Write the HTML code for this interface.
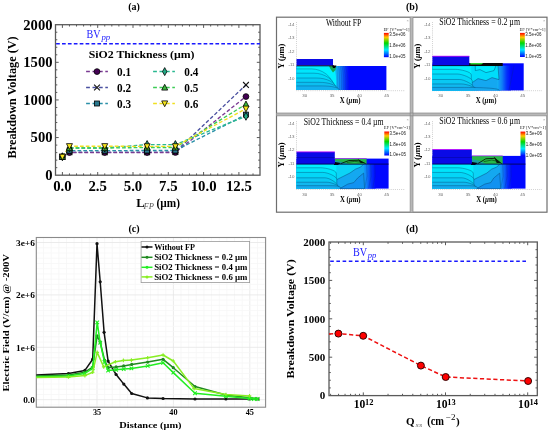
<!DOCTYPE html>
<html><head><meta charset="utf-8"><style>html,body{margin:0;padding:0;background:#fff;width:550px;height:433px;overflow:hidden}svg{display:block;filter:blur(0.4px)}</style></head>
<body><svg width="550" height="433" viewBox="0 0 550 433"><text x="134.00" y="10.20" font-size="10" font-family='"Liberation Serif", serif' font-weight="bold" fill="#000" text-anchor="middle">(a)</text>
<line x1="62.40" y1="175.2" x2="62.40" y2="172.0" stroke="#5a5a5a" stroke-width="1"/>
<line x1="62.40" y1="24.7" x2="62.40" y2="27.9" stroke="#5a5a5a" stroke-width="1"/>
<line x1="69.46" y1="175.2" x2="69.46" y2="173.39999999999998" stroke="#5a5a5a" stroke-width="1"/>
<line x1="69.46" y1="24.7" x2="69.46" y2="26.5" stroke="#5a5a5a" stroke-width="1"/>
<line x1="76.52" y1="175.2" x2="76.52" y2="173.39999999999998" stroke="#5a5a5a" stroke-width="1"/>
<line x1="76.52" y1="24.7" x2="76.52" y2="26.5" stroke="#5a5a5a" stroke-width="1"/>
<line x1="83.58" y1="175.2" x2="83.58" y2="173.39999999999998" stroke="#5a5a5a" stroke-width="1"/>
<line x1="83.58" y1="24.7" x2="83.58" y2="26.5" stroke="#5a5a5a" stroke-width="1"/>
<line x1="90.64" y1="175.2" x2="90.64" y2="173.39999999999998" stroke="#5a5a5a" stroke-width="1"/>
<line x1="90.64" y1="24.7" x2="90.64" y2="26.5" stroke="#5a5a5a" stroke-width="1"/>
<line x1="97.70" y1="175.2" x2="97.70" y2="172.0" stroke="#5a5a5a" stroke-width="1"/>
<line x1="97.70" y1="24.7" x2="97.70" y2="27.9" stroke="#5a5a5a" stroke-width="1"/>
<line x1="104.76" y1="175.2" x2="104.76" y2="173.39999999999998" stroke="#5a5a5a" stroke-width="1"/>
<line x1="104.76" y1="24.7" x2="104.76" y2="26.5" stroke="#5a5a5a" stroke-width="1"/>
<line x1="111.82" y1="175.2" x2="111.82" y2="173.39999999999998" stroke="#5a5a5a" stroke-width="1"/>
<line x1="111.82" y1="24.7" x2="111.82" y2="26.5" stroke="#5a5a5a" stroke-width="1"/>
<line x1="118.88" y1="175.2" x2="118.88" y2="173.39999999999998" stroke="#5a5a5a" stroke-width="1"/>
<line x1="118.88" y1="24.7" x2="118.88" y2="26.5" stroke="#5a5a5a" stroke-width="1"/>
<line x1="125.94" y1="175.2" x2="125.94" y2="173.39999999999998" stroke="#5a5a5a" stroke-width="1"/>
<line x1="125.94" y1="24.7" x2="125.94" y2="26.5" stroke="#5a5a5a" stroke-width="1"/>
<line x1="133.00" y1="175.2" x2="133.00" y2="172.0" stroke="#5a5a5a" stroke-width="1"/>
<line x1="133.00" y1="24.7" x2="133.00" y2="27.9" stroke="#5a5a5a" stroke-width="1"/>
<line x1="140.06" y1="175.2" x2="140.06" y2="173.39999999999998" stroke="#5a5a5a" stroke-width="1"/>
<line x1="140.06" y1="24.7" x2="140.06" y2="26.5" stroke="#5a5a5a" stroke-width="1"/>
<line x1="147.12" y1="175.2" x2="147.12" y2="173.39999999999998" stroke="#5a5a5a" stroke-width="1"/>
<line x1="147.12" y1="24.7" x2="147.12" y2="26.5" stroke="#5a5a5a" stroke-width="1"/>
<line x1="154.18" y1="175.2" x2="154.18" y2="173.39999999999998" stroke="#5a5a5a" stroke-width="1"/>
<line x1="154.18" y1="24.7" x2="154.18" y2="26.5" stroke="#5a5a5a" stroke-width="1"/>
<line x1="161.24" y1="175.2" x2="161.24" y2="173.39999999999998" stroke="#5a5a5a" stroke-width="1"/>
<line x1="161.24" y1="24.7" x2="161.24" y2="26.5" stroke="#5a5a5a" stroke-width="1"/>
<line x1="168.30" y1="175.2" x2="168.30" y2="172.0" stroke="#5a5a5a" stroke-width="1"/>
<line x1="168.30" y1="24.7" x2="168.30" y2="27.9" stroke="#5a5a5a" stroke-width="1"/>
<line x1="175.36" y1="175.2" x2="175.36" y2="173.39999999999998" stroke="#5a5a5a" stroke-width="1"/>
<line x1="175.36" y1="24.7" x2="175.36" y2="26.5" stroke="#5a5a5a" stroke-width="1"/>
<line x1="182.42" y1="175.2" x2="182.42" y2="173.39999999999998" stroke="#5a5a5a" stroke-width="1"/>
<line x1="182.42" y1="24.7" x2="182.42" y2="26.5" stroke="#5a5a5a" stroke-width="1"/>
<line x1="189.48" y1="175.2" x2="189.48" y2="173.39999999999998" stroke="#5a5a5a" stroke-width="1"/>
<line x1="189.48" y1="24.7" x2="189.48" y2="26.5" stroke="#5a5a5a" stroke-width="1"/>
<line x1="196.54" y1="175.2" x2="196.54" y2="173.39999999999998" stroke="#5a5a5a" stroke-width="1"/>
<line x1="196.54" y1="24.7" x2="196.54" y2="26.5" stroke="#5a5a5a" stroke-width="1"/>
<line x1="203.60" y1="175.2" x2="203.60" y2="172.0" stroke="#5a5a5a" stroke-width="1"/>
<line x1="203.60" y1="24.7" x2="203.60" y2="27.9" stroke="#5a5a5a" stroke-width="1"/>
<line x1="210.66" y1="175.2" x2="210.66" y2="173.39999999999998" stroke="#5a5a5a" stroke-width="1"/>
<line x1="210.66" y1="24.7" x2="210.66" y2="26.5" stroke="#5a5a5a" stroke-width="1"/>
<line x1="217.72" y1="175.2" x2="217.72" y2="173.39999999999998" stroke="#5a5a5a" stroke-width="1"/>
<line x1="217.72" y1="24.7" x2="217.72" y2="26.5" stroke="#5a5a5a" stroke-width="1"/>
<line x1="224.78" y1="175.2" x2="224.78" y2="173.39999999999998" stroke="#5a5a5a" stroke-width="1"/>
<line x1="224.78" y1="24.7" x2="224.78" y2="26.5" stroke="#5a5a5a" stroke-width="1"/>
<line x1="231.84" y1="175.2" x2="231.84" y2="173.39999999999998" stroke="#5a5a5a" stroke-width="1"/>
<line x1="231.84" y1="24.7" x2="231.84" y2="26.5" stroke="#5a5a5a" stroke-width="1"/>
<line x1="238.90" y1="175.2" x2="238.90" y2="172.0" stroke="#5a5a5a" stroke-width="1"/>
<line x1="238.90" y1="24.7" x2="238.90" y2="27.9" stroke="#5a5a5a" stroke-width="1"/>
<line x1="245.96" y1="175.2" x2="245.96" y2="173.39999999999998" stroke="#5a5a5a" stroke-width="1"/>
<line x1="245.96" y1="24.7" x2="245.96" y2="26.5" stroke="#5a5a5a" stroke-width="1"/>
<line x1="253.02" y1="175.2" x2="253.02" y2="173.39999999999998" stroke="#5a5a5a" stroke-width="1"/>
<line x1="253.02" y1="24.7" x2="253.02" y2="26.5" stroke="#5a5a5a" stroke-width="1"/>
<line x1="55.5" y1="167.67" x2="57.3" y2="167.67" stroke="#5a5a5a" stroke-width="1"/>
<line x1="260.0" y1="167.67" x2="258.2" y2="167.67" stroke="#5a5a5a" stroke-width="1"/>
<line x1="55.5" y1="160.15" x2="57.3" y2="160.15" stroke="#5a5a5a" stroke-width="1"/>
<line x1="260.0" y1="160.15" x2="258.2" y2="160.15" stroke="#5a5a5a" stroke-width="1"/>
<line x1="55.5" y1="152.62" x2="57.3" y2="152.62" stroke="#5a5a5a" stroke-width="1"/>
<line x1="260.0" y1="152.62" x2="258.2" y2="152.62" stroke="#5a5a5a" stroke-width="1"/>
<line x1="55.5" y1="145.10" x2="57.3" y2="145.10" stroke="#5a5a5a" stroke-width="1"/>
<line x1="260.0" y1="145.10" x2="258.2" y2="145.10" stroke="#5a5a5a" stroke-width="1"/>
<line x1="55.5" y1="137.57" x2="58.7" y2="137.57" stroke="#5a5a5a" stroke-width="1"/>
<line x1="260.0" y1="137.57" x2="256.8" y2="137.57" stroke="#5a5a5a" stroke-width="1"/>
<line x1="55.5" y1="130.05" x2="57.3" y2="130.05" stroke="#5a5a5a" stroke-width="1"/>
<line x1="260.0" y1="130.05" x2="258.2" y2="130.05" stroke="#5a5a5a" stroke-width="1"/>
<line x1="55.5" y1="122.52" x2="57.3" y2="122.52" stroke="#5a5a5a" stroke-width="1"/>
<line x1="260.0" y1="122.52" x2="258.2" y2="122.52" stroke="#5a5a5a" stroke-width="1"/>
<line x1="55.5" y1="115.00" x2="57.3" y2="115.00" stroke="#5a5a5a" stroke-width="1"/>
<line x1="260.0" y1="115.00" x2="258.2" y2="115.00" stroke="#5a5a5a" stroke-width="1"/>
<line x1="55.5" y1="107.47" x2="57.3" y2="107.47" stroke="#5a5a5a" stroke-width="1"/>
<line x1="260.0" y1="107.47" x2="258.2" y2="107.47" stroke="#5a5a5a" stroke-width="1"/>
<line x1="55.5" y1="99.95" x2="58.7" y2="99.95" stroke="#5a5a5a" stroke-width="1"/>
<line x1="260.0" y1="99.95" x2="256.8" y2="99.95" stroke="#5a5a5a" stroke-width="1"/>
<line x1="55.5" y1="92.42" x2="57.3" y2="92.42" stroke="#5a5a5a" stroke-width="1"/>
<line x1="260.0" y1="92.42" x2="258.2" y2="92.42" stroke="#5a5a5a" stroke-width="1"/>
<line x1="55.5" y1="84.90" x2="57.3" y2="84.90" stroke="#5a5a5a" stroke-width="1"/>
<line x1="260.0" y1="84.90" x2="258.2" y2="84.90" stroke="#5a5a5a" stroke-width="1"/>
<line x1="55.5" y1="77.37" x2="57.3" y2="77.37" stroke="#5a5a5a" stroke-width="1"/>
<line x1="260.0" y1="77.37" x2="258.2" y2="77.37" stroke="#5a5a5a" stroke-width="1"/>
<line x1="55.5" y1="69.85" x2="57.3" y2="69.85" stroke="#5a5a5a" stroke-width="1"/>
<line x1="260.0" y1="69.85" x2="258.2" y2="69.85" stroke="#5a5a5a" stroke-width="1"/>
<line x1="55.5" y1="62.32" x2="58.7" y2="62.32" stroke="#5a5a5a" stroke-width="1"/>
<line x1="260.0" y1="62.32" x2="256.8" y2="62.32" stroke="#5a5a5a" stroke-width="1"/>
<line x1="55.5" y1="54.80" x2="57.3" y2="54.80" stroke="#5a5a5a" stroke-width="1"/>
<line x1="260.0" y1="54.80" x2="258.2" y2="54.80" stroke="#5a5a5a" stroke-width="1"/>
<line x1="55.5" y1="47.27" x2="57.3" y2="47.27" stroke="#5a5a5a" stroke-width="1"/>
<line x1="260.0" y1="47.27" x2="258.2" y2="47.27" stroke="#5a5a5a" stroke-width="1"/>
<line x1="55.5" y1="39.75" x2="57.3" y2="39.75" stroke="#5a5a5a" stroke-width="1"/>
<line x1="260.0" y1="39.75" x2="258.2" y2="39.75" stroke="#5a5a5a" stroke-width="1"/>
<line x1="55.5" y1="32.22" x2="57.3" y2="32.22" stroke="#5a5a5a" stroke-width="1"/>
<line x1="260.0" y1="32.22" x2="258.2" y2="32.22" stroke="#5a5a5a" stroke-width="1"/>
<rect x="55.5" y="24.7" width="204.5" height="150.5" fill="none" stroke="#5a5a5a" stroke-width="1.3"/>
<text x="52.50" y="180.10" font-size="14.6" font-family='"Liberation Serif", serif' font-weight="bold" fill="#000" text-anchor="end">0</text>
<text x="52.50" y="142.47" font-size="14.6" font-family='"Liberation Serif", serif' font-weight="bold" fill="#000" text-anchor="end">500</text>
<text x="52.50" y="104.85" font-size="14.6" font-family='"Liberation Serif", serif' font-weight="bold" fill="#000" text-anchor="end">1000</text>
<text x="52.50" y="67.22" font-size="14.6" font-family='"Liberation Serif", serif' font-weight="bold" fill="#000" text-anchor="end">1500</text>
<text x="52.50" y="29.60" font-size="14.6" font-family='"Liberation Serif", serif' font-weight="bold" fill="#000" text-anchor="end">2000</text>
<text x="62.40" y="190.60" font-size="14.8" font-family='"Liberation Serif", serif' font-weight="bold" fill="#000" text-anchor="middle">0.0</text>
<text x="97.70" y="190.60" font-size="14.8" font-family='"Liberation Serif", serif' font-weight="bold" fill="#000" text-anchor="middle">2.5</text>
<text x="133.00" y="190.60" font-size="14.8" font-family='"Liberation Serif", serif' font-weight="bold" fill="#000" text-anchor="middle">5.0</text>
<text x="168.30" y="190.60" font-size="14.8" font-family='"Liberation Serif", serif' font-weight="bold" fill="#000" text-anchor="middle">7.5</text>
<text x="203.60" y="190.60" font-size="14.8" font-family='"Liberation Serif", serif' font-weight="bold" fill="#000" text-anchor="middle">10.0</text>
<text x="238.90" y="190.60" font-size="14.8" font-family='"Liberation Serif", serif' font-weight="bold" fill="#000" text-anchor="middle">12.5</text>
<text x="16.50" y="97.40" font-size="12.5" font-family='"Liberation Serif", serif' font-weight="bold" fill="#000" text-anchor="middle" textLength="122" lengthAdjust="spacingAndGlyphs" transform="rotate(-90 16.50 97.40)">Breakdown Voltage (V)</text>
<text x="136.30" y="207.20" font-size="12.6" font-family='"Liberation Serif", serif' font-weight="bold" fill="#000" text-anchor="start">L</text>
<text x="143.50" y="209.20" font-size="8.4" font-family='"Liberation Serif", serif' font-weight="normal" fill="#555" text-anchor="start" font-style="italic" textLength="10.4" lengthAdjust="spacingAndGlyphs">FP</text>
<text x="156.60" y="207.20" font-size="12.6" font-family='"Liberation Serif", serif' font-weight="bold" fill="#000" text-anchor="start" textLength="23.4" lengthAdjust="spacingAndGlyphs">(µm)</text>
<line x1="56.1" y1="43.8" x2="260.0" y2="43.8" stroke="#1a1aff" stroke-width="1.5" stroke-dasharray="3.7 2.2"/>
<text x="86.60" y="38.40" font-size="12.4" font-family='"Liberation Serif", serif' font-weight="normal" fill="#1a1aff" text-anchor="start" textLength="14" lengthAdjust="spacingAndGlyphs">BV</text>
<text x="101.40" y="40.30" font-size="8.2" font-family='"Liberation Serif", serif' font-weight="normal" fill="#1a1aff" text-anchor="start" font-style="italic" textLength="8.8" lengthAdjust="spacingAndGlyphs">pp</text>
<text x="88.70" y="58.20" font-size="11" font-family='"Liberation Serif", serif' font-weight="bold" fill="#000" text-anchor="start" textLength="105.8" lengthAdjust="spacingAndGlyphs">SiO2 Thickness (µm)</text>
<line x1="86.1" y1="71.6" x2="107.9" y2="71.6" stroke="#7a3a92" stroke-width="1.5" stroke-dasharray="3.8 2.6"/>
<circle cx="97.00" cy="71.60" r="2.9" fill="#440154" stroke="#000" stroke-width="0.8"/>
<text x="117.10" y="75.80" font-size="11.8" font-family='"Liberation Serif", serif' font-weight="bold" fill="#000" text-anchor="start" textLength="14" lengthAdjust="spacingAndGlyphs">0.1</text>
<line x1="86.1" y1="87.5" x2="107.9" y2="87.5" stroke="#4a50a0" stroke-width="1.5" stroke-dasharray="3.8 2.6"/>
<path d="M94.10 84.60L99.90 90.40M94.10 90.40L99.90 84.60" stroke="#111" stroke-width="1.1"/>
<text x="117.10" y="91.70" font-size="11.8" font-family='"Liberation Serif", serif' font-weight="bold" fill="#000" text-anchor="start" textLength="14" lengthAdjust="spacingAndGlyphs">0.2</text>
<line x1="86.1" y1="103.5" x2="107.9" y2="103.5" stroke="#2a90a8" stroke-width="1.5" stroke-dasharray="3.8 2.6"/>
<rect x="94.50" y="101.00" width="5" height="5" fill="#2a788e" stroke="#000" stroke-width="0.8"/>
<text x="117.10" y="107.70" font-size="11.8" font-family='"Liberation Serif", serif' font-weight="bold" fill="#000" text-anchor="start" textLength="14" lengthAdjust="spacingAndGlyphs">0.3</text>
<line x1="153.1" y1="71.6" x2="174.9" y2="71.6" stroke="#2ab890" stroke-width="1.5" stroke-dasharray="3.8 2.6"/>
<path d="M164.70 67.60L166.90 71.60L164.70 75.60L162.50 71.60Z" fill="#22a884" stroke="#000" stroke-width="0.8"/>
<text x="184.30" y="75.80" font-size="11.8" font-family='"Liberation Serif", serif' font-weight="bold" fill="#000" text-anchor="start" textLength="14" lengthAdjust="spacingAndGlyphs">0.4</text>
<line x1="153.1" y1="87.5" x2="174.9" y2="87.5" stroke="#3ccc55" stroke-width="1.5" stroke-dasharray="3.8 2.6"/>
<path d="M164.70 84.30L167.70 90.10L161.70 90.10Z" fill="#3cbb3c" stroke="#000" stroke-width="0.8"/>
<text x="184.30" y="91.70" font-size="11.8" font-family='"Liberation Serif", serif' font-weight="bold" fill="#000" text-anchor="start" textLength="14" lengthAdjust="spacingAndGlyphs">0.5</text>
<line x1="153.1" y1="103.5" x2="174.9" y2="103.5" stroke="#f0e020" stroke-width="1.5" stroke-dasharray="3.8 2.6"/>
<path d="M164.70 106.70L167.70 100.90L161.70 100.90Z" fill="#f5e51e" stroke="#000" stroke-width="0.8"/>
<text x="184.30" y="107.70" font-size="11.8" font-family='"Liberation Serif", serif' font-weight="bold" fill="#000" text-anchor="start" textLength="14" lengthAdjust="spacingAndGlyphs">0.6</text>
<polyline points="62.40,156.76 69.46,152.25 104.76,152.25 147.12,152.25 175.36,152.02 245.96,84.90" fill="none" stroke="#4a50a0" stroke-width="1.35" stroke-dasharray="3.7 2.1"/>
<polyline points="62.40,156.76 69.46,152.62 104.76,152.62 147.12,152.62 175.36,152.47 245.96,96.56" fill="none" stroke="#7a3a92" stroke-width="1.35" stroke-dasharray="3.7 2.1"/>
<polyline points="62.40,156.76 69.46,150.59 104.76,150.59 147.12,150.52 175.36,150.52 245.96,114.62" fill="none" stroke="#2a90a8" stroke-width="1.35" stroke-dasharray="3.7 2.1"/>
<polyline points="62.40,156.76 69.46,148.03 104.76,148.03 147.12,144.57 175.36,144.57 245.96,116.28" fill="none" stroke="#2ab890" stroke-width="1.35" stroke-dasharray="3.7 2.1"/>
<polyline points="62.40,156.76 69.46,148.03 104.76,148.03 147.12,147.51 175.36,147.51 245.96,104.24" fill="none" stroke="#3ccc55" stroke-width="1.35" stroke-dasharray="3.7 2.1"/>
<polyline points="62.40,156.76 69.46,146.23 104.76,146.23 147.12,146.38 175.36,146.38 245.96,108.68" fill="none" stroke="#f0e020" stroke-width="1.35" stroke-dasharray="3.7 2.1"/>
<circle cx="62.40" cy="156.76" r="2.9" fill="#440154" stroke="#000" stroke-width="0.8"/>
<circle cx="69.46" cy="152.62" r="2.9" fill="#440154" stroke="#000" stroke-width="0.8"/>
<circle cx="104.76" cy="152.62" r="2.9" fill="#440154" stroke="#000" stroke-width="0.8"/>
<circle cx="147.12" cy="152.62" r="2.9" fill="#440154" stroke="#000" stroke-width="0.8"/>
<circle cx="175.36" cy="152.47" r="2.9" fill="#440154" stroke="#000" stroke-width="0.8"/>
<circle cx="245.96" cy="96.56" r="2.9" fill="#440154" stroke="#000" stroke-width="0.8"/>
<path d="M59.50 153.86L65.30 159.66M59.50 159.66L65.30 153.86" stroke="#111" stroke-width="1.1"/>
<path d="M66.56 149.35L72.36 155.15M66.56 155.15L72.36 149.35" stroke="#111" stroke-width="1.1"/>
<path d="M101.86 149.35L107.66 155.15M101.86 155.15L107.66 149.35" stroke="#111" stroke-width="1.1"/>
<path d="M144.22 149.35L150.02 155.15M144.22 155.15L150.02 149.35" stroke="#111" stroke-width="1.1"/>
<path d="M172.46 149.12L178.26 154.92M172.46 154.92L178.26 149.12" stroke="#111" stroke-width="1.1"/>
<path d="M243.06 82.00L248.86 87.80M243.06 87.80L248.86 82.00" stroke="#111" stroke-width="1.1"/>
<rect x="59.90" y="154.26" width="5" height="5" fill="#2a788e" stroke="#000" stroke-width="0.8"/>
<rect x="66.96" y="148.09" width="5" height="5" fill="#2a788e" stroke="#000" stroke-width="0.8"/>
<rect x="102.26" y="148.09" width="5" height="5" fill="#2a788e" stroke="#000" stroke-width="0.8"/>
<rect x="144.62" y="148.02" width="5" height="5" fill="#2a788e" stroke="#000" stroke-width="0.8"/>
<rect x="172.86" y="148.02" width="5" height="5" fill="#2a788e" stroke="#000" stroke-width="0.8"/>
<rect x="243.46" y="112.12" width="5" height="5" fill="#2a788e" stroke="#000" stroke-width="0.8"/>
<path d="M62.40 152.76L64.60 156.76L62.40 160.76L60.20 156.76Z" fill="#22a884" stroke="#000" stroke-width="0.8"/>
<path d="M69.46 144.03L71.66 148.03L69.46 152.03L67.26 148.03Z" fill="#22a884" stroke="#000" stroke-width="0.8"/>
<path d="M104.76 144.03L106.96 148.03L104.76 152.03L102.56 148.03Z" fill="#22a884" stroke="#000" stroke-width="0.8"/>
<path d="M147.12 140.57L149.32 144.57L147.12 148.57L144.92 144.57Z" fill="#22a884" stroke="#000" stroke-width="0.8"/>
<path d="M175.36 140.57L177.56 144.57L175.36 148.57L173.16 144.57Z" fill="#22a884" stroke="#000" stroke-width="0.8"/>
<path d="M245.96 112.28L248.16 116.28L245.96 120.28L243.76 116.28Z" fill="#22a884" stroke="#000" stroke-width="0.8"/>
<path d="M62.40 153.56L65.40 159.36L59.40 159.36Z" fill="#3cbb3c" stroke="#000" stroke-width="0.8"/>
<path d="M69.46 144.83L72.46 150.63L66.46 150.63Z" fill="#3cbb3c" stroke="#000" stroke-width="0.8"/>
<path d="M104.76 144.83L107.76 150.63L101.76 150.63Z" fill="#3cbb3c" stroke="#000" stroke-width="0.8"/>
<path d="M147.12 144.31L150.12 150.11L144.12 150.11Z" fill="#3cbb3c" stroke="#000" stroke-width="0.8"/>
<path d="M175.36 144.31L178.36 150.11L172.36 150.11Z" fill="#3cbb3c" stroke="#000" stroke-width="0.8"/>
<path d="M245.96 101.04L248.96 106.84L242.96 106.84Z" fill="#3cbb3c" stroke="#000" stroke-width="0.8"/>
<path d="M62.40 159.96L65.40 154.16L59.40 154.16Z" fill="#f5e51e" stroke="#000" stroke-width="0.8"/>
<path d="M69.46 149.43L72.46 143.63L66.46 143.63Z" fill="#f5e51e" stroke="#000" stroke-width="0.8"/>
<path d="M104.76 149.43L107.76 143.63L101.76 143.63Z" fill="#f5e51e" stroke="#000" stroke-width="0.8"/>
<path d="M147.12 149.58L150.12 143.78L144.12 143.78Z" fill="#f5e51e" stroke="#000" stroke-width="0.8"/>
<path d="M175.36 149.58L178.36 143.78L172.36 143.78Z" fill="#f5e51e" stroke="#000" stroke-width="0.8"/>
<path d="M245.96 111.88L248.96 106.08L242.96 106.08Z" fill="#f5e51e" stroke="#000" stroke-width="0.8"/>
<text x="412.00" y="232.00" font-size="10" font-family='"Liberation Serif", serif' font-weight="bold" fill="#000" text-anchor="middle">(d)</text>
<line x1="330.59" y1="395.6" x2="330.59" y2="393.8" stroke="#5a5a5a" stroke-width="1"/>
<line x1="330.59" y1="242.0" x2="330.59" y2="243.8" stroke="#5a5a5a" stroke-width="1"/>
<line x1="338.56" y1="395.6" x2="338.56" y2="393.8" stroke="#5a5a5a" stroke-width="1"/>
<line x1="338.56" y1="242.0" x2="338.56" y2="243.8" stroke="#5a5a5a" stroke-width="1"/>
<line x1="345.06" y1="395.6" x2="345.06" y2="393.8" stroke="#5a5a5a" stroke-width="1"/>
<line x1="345.06" y1="242.0" x2="345.06" y2="243.8" stroke="#5a5a5a" stroke-width="1"/>
<line x1="350.57" y1="395.6" x2="350.57" y2="393.8" stroke="#5a5a5a" stroke-width="1"/>
<line x1="350.57" y1="242.0" x2="350.57" y2="243.8" stroke="#5a5a5a" stroke-width="1"/>
<line x1="355.33" y1="395.6" x2="355.33" y2="393.8" stroke="#5a5a5a" stroke-width="1"/>
<line x1="355.33" y1="242.0" x2="355.33" y2="243.8" stroke="#5a5a5a" stroke-width="1"/>
<line x1="359.54" y1="395.6" x2="359.54" y2="393.8" stroke="#5a5a5a" stroke-width="1"/>
<line x1="359.54" y1="242.0" x2="359.54" y2="243.8" stroke="#5a5a5a" stroke-width="1"/>
<line x1="363.30" y1="395.6" x2="363.30" y2="392.40000000000003" stroke="#5a5a5a" stroke-width="1"/>
<line x1="363.30" y1="242.0" x2="363.30" y2="245.2" stroke="#5a5a5a" stroke-width="1"/>
<line x1="388.04" y1="395.6" x2="388.04" y2="393.8" stroke="#5a5a5a" stroke-width="1"/>
<line x1="388.04" y1="242.0" x2="388.04" y2="243.8" stroke="#5a5a5a" stroke-width="1"/>
<line x1="402.52" y1="395.6" x2="402.52" y2="393.8" stroke="#5a5a5a" stroke-width="1"/>
<line x1="402.52" y1="242.0" x2="402.52" y2="243.8" stroke="#5a5a5a" stroke-width="1"/>
<line x1="412.79" y1="395.6" x2="412.79" y2="393.8" stroke="#5a5a5a" stroke-width="1"/>
<line x1="412.79" y1="242.0" x2="412.79" y2="243.8" stroke="#5a5a5a" stroke-width="1"/>
<line x1="420.76" y1="395.6" x2="420.76" y2="393.8" stroke="#5a5a5a" stroke-width="1"/>
<line x1="420.76" y1="242.0" x2="420.76" y2="243.8" stroke="#5a5a5a" stroke-width="1"/>
<line x1="427.26" y1="395.6" x2="427.26" y2="393.8" stroke="#5a5a5a" stroke-width="1"/>
<line x1="427.26" y1="242.0" x2="427.26" y2="243.8" stroke="#5a5a5a" stroke-width="1"/>
<line x1="432.77" y1="395.6" x2="432.77" y2="393.8" stroke="#5a5a5a" stroke-width="1"/>
<line x1="432.77" y1="242.0" x2="432.77" y2="243.8" stroke="#5a5a5a" stroke-width="1"/>
<line x1="437.53" y1="395.6" x2="437.53" y2="393.8" stroke="#5a5a5a" stroke-width="1"/>
<line x1="437.53" y1="242.0" x2="437.53" y2="243.8" stroke="#5a5a5a" stroke-width="1"/>
<line x1="441.74" y1="395.6" x2="441.74" y2="393.8" stroke="#5a5a5a" stroke-width="1"/>
<line x1="441.74" y1="242.0" x2="441.74" y2="243.8" stroke="#5a5a5a" stroke-width="1"/>
<line x1="445.50" y1="395.6" x2="445.50" y2="392.40000000000003" stroke="#5a5a5a" stroke-width="1"/>
<line x1="445.50" y1="242.0" x2="445.50" y2="245.2" stroke="#5a5a5a" stroke-width="1"/>
<line x1="470.24" y1="395.6" x2="470.24" y2="393.8" stroke="#5a5a5a" stroke-width="1"/>
<line x1="470.24" y1="242.0" x2="470.24" y2="243.8" stroke="#5a5a5a" stroke-width="1"/>
<line x1="484.72" y1="395.6" x2="484.72" y2="393.8" stroke="#5a5a5a" stroke-width="1"/>
<line x1="484.72" y1="242.0" x2="484.72" y2="243.8" stroke="#5a5a5a" stroke-width="1"/>
<line x1="494.99" y1="395.6" x2="494.99" y2="393.8" stroke="#5a5a5a" stroke-width="1"/>
<line x1="494.99" y1="242.0" x2="494.99" y2="243.8" stroke="#5a5a5a" stroke-width="1"/>
<line x1="502.96" y1="395.6" x2="502.96" y2="393.8" stroke="#5a5a5a" stroke-width="1"/>
<line x1="502.96" y1="242.0" x2="502.96" y2="243.8" stroke="#5a5a5a" stroke-width="1"/>
<line x1="509.46" y1="395.6" x2="509.46" y2="393.8" stroke="#5a5a5a" stroke-width="1"/>
<line x1="509.46" y1="242.0" x2="509.46" y2="243.8" stroke="#5a5a5a" stroke-width="1"/>
<line x1="514.97" y1="395.6" x2="514.97" y2="393.8" stroke="#5a5a5a" stroke-width="1"/>
<line x1="514.97" y1="242.0" x2="514.97" y2="243.8" stroke="#5a5a5a" stroke-width="1"/>
<line x1="519.73" y1="395.6" x2="519.73" y2="393.8" stroke="#5a5a5a" stroke-width="1"/>
<line x1="519.73" y1="242.0" x2="519.73" y2="243.8" stroke="#5a5a5a" stroke-width="1"/>
<line x1="523.94" y1="395.6" x2="523.94" y2="393.8" stroke="#5a5a5a" stroke-width="1"/>
<line x1="523.94" y1="242.0" x2="523.94" y2="243.8" stroke="#5a5a5a" stroke-width="1"/>
<line x1="527.70" y1="395.6" x2="527.70" y2="392.40000000000003" stroke="#5a5a5a" stroke-width="1"/>
<line x1="527.70" y1="242.0" x2="527.70" y2="245.2" stroke="#5a5a5a" stroke-width="1"/>
<line x1="329.0" y1="387.92" x2="330.8" y2="387.92" stroke="#5a5a5a" stroke-width="1"/>
<line x1="537.3" y1="387.92" x2="535.5" y2="387.92" stroke="#5a5a5a" stroke-width="1"/>
<line x1="329.0" y1="380.24" x2="330.8" y2="380.24" stroke="#5a5a5a" stroke-width="1"/>
<line x1="537.3" y1="380.24" x2="535.5" y2="380.24" stroke="#5a5a5a" stroke-width="1"/>
<line x1="329.0" y1="372.56" x2="330.8" y2="372.56" stroke="#5a5a5a" stroke-width="1"/>
<line x1="537.3" y1="372.56" x2="535.5" y2="372.56" stroke="#5a5a5a" stroke-width="1"/>
<line x1="329.0" y1="364.88" x2="330.8" y2="364.88" stroke="#5a5a5a" stroke-width="1"/>
<line x1="537.3" y1="364.88" x2="535.5" y2="364.88" stroke="#5a5a5a" stroke-width="1"/>
<line x1="329.0" y1="357.20" x2="332.2" y2="357.20" stroke="#5a5a5a" stroke-width="1"/>
<line x1="537.3" y1="357.20" x2="534.0999999999999" y2="357.20" stroke="#5a5a5a" stroke-width="1"/>
<line x1="329.0" y1="349.52" x2="330.8" y2="349.52" stroke="#5a5a5a" stroke-width="1"/>
<line x1="537.3" y1="349.52" x2="535.5" y2="349.52" stroke="#5a5a5a" stroke-width="1"/>
<line x1="329.0" y1="341.84" x2="330.8" y2="341.84" stroke="#5a5a5a" stroke-width="1"/>
<line x1="537.3" y1="341.84" x2="535.5" y2="341.84" stroke="#5a5a5a" stroke-width="1"/>
<line x1="329.0" y1="334.16" x2="330.8" y2="334.16" stroke="#5a5a5a" stroke-width="1"/>
<line x1="537.3" y1="334.16" x2="535.5" y2="334.16" stroke="#5a5a5a" stroke-width="1"/>
<line x1="329.0" y1="326.48" x2="330.8" y2="326.48" stroke="#5a5a5a" stroke-width="1"/>
<line x1="537.3" y1="326.48" x2="535.5" y2="326.48" stroke="#5a5a5a" stroke-width="1"/>
<line x1="329.0" y1="318.80" x2="332.2" y2="318.80" stroke="#5a5a5a" stroke-width="1"/>
<line x1="537.3" y1="318.80" x2="534.0999999999999" y2="318.80" stroke="#5a5a5a" stroke-width="1"/>
<line x1="329.0" y1="311.12" x2="330.8" y2="311.12" stroke="#5a5a5a" stroke-width="1"/>
<line x1="537.3" y1="311.12" x2="535.5" y2="311.12" stroke="#5a5a5a" stroke-width="1"/>
<line x1="329.0" y1="303.44" x2="330.8" y2="303.44" stroke="#5a5a5a" stroke-width="1"/>
<line x1="537.3" y1="303.44" x2="535.5" y2="303.44" stroke="#5a5a5a" stroke-width="1"/>
<line x1="329.0" y1="295.76" x2="330.8" y2="295.76" stroke="#5a5a5a" stroke-width="1"/>
<line x1="537.3" y1="295.76" x2="535.5" y2="295.76" stroke="#5a5a5a" stroke-width="1"/>
<line x1="329.0" y1="288.08" x2="330.8" y2="288.08" stroke="#5a5a5a" stroke-width="1"/>
<line x1="537.3" y1="288.08" x2="535.5" y2="288.08" stroke="#5a5a5a" stroke-width="1"/>
<line x1="329.0" y1="280.40" x2="332.2" y2="280.40" stroke="#5a5a5a" stroke-width="1"/>
<line x1="537.3" y1="280.40" x2="534.0999999999999" y2="280.40" stroke="#5a5a5a" stroke-width="1"/>
<line x1="329.0" y1="272.72" x2="330.8" y2="272.72" stroke="#5a5a5a" stroke-width="1"/>
<line x1="537.3" y1="272.72" x2="535.5" y2="272.72" stroke="#5a5a5a" stroke-width="1"/>
<line x1="329.0" y1="265.04" x2="330.8" y2="265.04" stroke="#5a5a5a" stroke-width="1"/>
<line x1="537.3" y1="265.04" x2="535.5" y2="265.04" stroke="#5a5a5a" stroke-width="1"/>
<line x1="329.0" y1="257.36" x2="330.8" y2="257.36" stroke="#5a5a5a" stroke-width="1"/>
<line x1="537.3" y1="257.36" x2="535.5" y2="257.36" stroke="#5a5a5a" stroke-width="1"/>
<line x1="329.0" y1="249.68" x2="330.8" y2="249.68" stroke="#5a5a5a" stroke-width="1"/>
<line x1="537.3" y1="249.68" x2="535.5" y2="249.68" stroke="#5a5a5a" stroke-width="1"/>
<rect x="329.0" y="242.0" width="208.29999999999995" height="153.60000000000002" fill="none" stroke="#5a5a5a" stroke-width="1.3"/>
<text x="325.20" y="399.40" font-size="11" font-family='"Liberation Serif", serif' font-weight="bold" fill="#000" text-anchor="end">0</text>
<text x="325.20" y="361.00" font-size="11" font-family='"Liberation Serif", serif' font-weight="bold" fill="#000" text-anchor="end">500</text>
<text x="325.20" y="322.60" font-size="11" font-family='"Liberation Serif", serif' font-weight="bold" fill="#000" text-anchor="end">1000</text>
<text x="325.20" y="284.20" font-size="11" font-family='"Liberation Serif", serif' font-weight="bold" fill="#000" text-anchor="end">1500</text>
<text x="325.20" y="245.80" font-size="11" font-family='"Liberation Serif", serif' font-weight="bold" fill="#000" text-anchor="end">2000</text>
<text x="353.70" y="408.40" font-size="12" font-family='"Liberation Serif", serif' font-weight="bold" fill="#000" text-anchor="start" textLength="11.6" lengthAdjust="spacingAndGlyphs">10</text>
<text x="365.10" y="404.60" font-size="8.2" font-family='"Liberation Serif", serif' font-weight="bold" fill="#000" text-anchor="start" textLength="8.4" lengthAdjust="spacingAndGlyphs">12</text>
<text x="435.90" y="408.40" font-size="12" font-family='"Liberation Serif", serif' font-weight="bold" fill="#000" text-anchor="start" textLength="11.6" lengthAdjust="spacingAndGlyphs">10</text>
<text x="447.30" y="404.60" font-size="8.2" font-family='"Liberation Serif", serif' font-weight="bold" fill="#000" text-anchor="start" textLength="8.4" lengthAdjust="spacingAndGlyphs">13</text>
<text x="518.10" y="408.40" font-size="12" font-family='"Liberation Serif", serif' font-weight="bold" fill="#000" text-anchor="start" textLength="11.6" lengthAdjust="spacingAndGlyphs">10</text>
<text x="529.50" y="404.60" font-size="8.2" font-family='"Liberation Serif", serif' font-weight="bold" fill="#000" text-anchor="start" textLength="8.4" lengthAdjust="spacingAndGlyphs">14</text>
<text x="294.20" y="318.90" font-size="11.4" font-family='"Liberation Serif", serif' font-weight="bold" fill="#000" text-anchor="middle" textLength="119.3" lengthAdjust="spacingAndGlyphs" transform="rotate(-90 294.20 318.90)">Breakdown Voltage (V)</text>
<text x="406.10" y="424.50" font-size="11" font-family='"Liberation Serif", serif' font-weight="bold" fill="#000" text-anchor="start">Q</text>
<text x="415.60" y="426.60" font-size="6.6" font-family='"Liberation Serif", serif' font-weight="normal" fill="#666" text-anchor="start" font-style="italic" textLength="6.6" lengthAdjust="spacingAndGlyphs">ss</text>
<text x="427.20" y="424.50" font-size="12" font-family='"Liberation Serif", serif' font-weight="bold" fill="#000" text-anchor="start" textLength="16.8" lengthAdjust="spacingAndGlyphs">(cm</text>
<text x="445.80" y="420.20" font-size="8" font-family='"Liberation Serif", serif' font-weight="normal" fill="#000" text-anchor="start" textLength="9.6" lengthAdjust="spacingAndGlyphs">−2</text>
<text x="456.00" y="424.50" font-size="11" font-family='"Liberation Serif", serif' font-weight="bold" fill="#000" text-anchor="start">)</text>
<line x1="330.2" y1="261.3" x2="527" y2="261.3" stroke="#1a1aff" stroke-width="1.5" stroke-dasharray="3.6 2.6"/>
<text x="353.00" y="255.80" font-size="12.4" font-family='"Liberation Serif", serif' font-weight="normal" fill="#1a1aff" text-anchor="start" textLength="14.2" lengthAdjust="spacingAndGlyphs">BV</text>
<text x="367.80" y="257.60" font-size="8.2" font-family='"Liberation Serif", serif' font-weight="normal" fill="#1a1aff" text-anchor="start" font-style="italic" textLength="8.6" lengthAdjust="spacingAndGlyphs">pp</text>
<polyline points="329.00,333.90 338.40,333.60 363.20,335.80 420.90,365.60 445.70,377.00 528.10,381.00" fill="none" stroke="#ee1111" stroke-width="1.5" stroke-dasharray="4.2 2.5"/>
<circle cx="338.4" cy="333.6" r="3.5" fill="#ff0000" stroke="#2a0000" stroke-width="0.95"/>
<circle cx="363.2" cy="335.8" r="3.5" fill="#ff0000" stroke="#2a0000" stroke-width="0.95"/>
<circle cx="420.9" cy="365.6" r="3.5" fill="#ff0000" stroke="#2a0000" stroke-width="0.95"/>
<circle cx="445.7" cy="377.0" r="3.5" fill="#ff0000" stroke="#2a0000" stroke-width="0.95"/>
<circle cx="528.1" cy="381.0" r="3.5" fill="#ff0000" stroke="#2a0000" stroke-width="0.95"/>
<text x="134.00" y="232.00" font-size="10" font-family='"Liberation Serif", serif' font-weight="bold" fill="#000" text-anchor="middle">(c)</text>
<line x1="43.52" y1="237.5" x2="43.52" y2="407.2" stroke="#f6f6f6" stroke-width="0.8"/>
<line x1="51.16" y1="237.5" x2="51.16" y2="407.2" stroke="#f6f6f6" stroke-width="0.8"/>
<line x1="58.80" y1="237.5" x2="58.80" y2="407.2" stroke="#f6f6f6" stroke-width="0.8"/>
<line x1="66.44" y1="237.5" x2="66.44" y2="407.2" stroke="#f6f6f6" stroke-width="0.8"/>
<line x1="74.08" y1="237.5" x2="74.08" y2="407.2" stroke="#f6f6f6" stroke-width="0.8"/>
<line x1="81.72" y1="237.5" x2="81.72" y2="407.2" stroke="#f6f6f6" stroke-width="0.8"/>
<line x1="89.36" y1="237.5" x2="89.36" y2="407.2" stroke="#f6f6f6" stroke-width="0.8"/>
<line x1="97.00" y1="237.5" x2="97.00" y2="407.2" stroke="#e6e6e6" stroke-width="0.8"/>
<line x1="104.64" y1="237.5" x2="104.64" y2="407.2" stroke="#f6f6f6" stroke-width="0.8"/>
<line x1="112.28" y1="237.5" x2="112.28" y2="407.2" stroke="#f6f6f6" stroke-width="0.8"/>
<line x1="119.92" y1="237.5" x2="119.92" y2="407.2" stroke="#f6f6f6" stroke-width="0.8"/>
<line x1="127.56" y1="237.5" x2="127.56" y2="407.2" stroke="#f6f6f6" stroke-width="0.8"/>
<line x1="135.20" y1="237.5" x2="135.20" y2="407.2" stroke="#f6f6f6" stroke-width="0.8"/>
<line x1="142.84" y1="237.5" x2="142.84" y2="407.2" stroke="#f6f6f6" stroke-width="0.8"/>
<line x1="150.48" y1="237.5" x2="150.48" y2="407.2" stroke="#f6f6f6" stroke-width="0.8"/>
<line x1="158.12" y1="237.5" x2="158.12" y2="407.2" stroke="#f6f6f6" stroke-width="0.8"/>
<line x1="165.76" y1="237.5" x2="165.76" y2="407.2" stroke="#f6f6f6" stroke-width="0.8"/>
<line x1="173.40" y1="237.5" x2="173.40" y2="407.2" stroke="#e6e6e6" stroke-width="0.8"/>
<line x1="181.04" y1="237.5" x2="181.04" y2="407.2" stroke="#f6f6f6" stroke-width="0.8"/>
<line x1="188.68" y1="237.5" x2="188.68" y2="407.2" stroke="#f6f6f6" stroke-width="0.8"/>
<line x1="196.32" y1="237.5" x2="196.32" y2="407.2" stroke="#f6f6f6" stroke-width="0.8"/>
<line x1="203.96" y1="237.5" x2="203.96" y2="407.2" stroke="#f6f6f6" stroke-width="0.8"/>
<line x1="211.60" y1="237.5" x2="211.60" y2="407.2" stroke="#f6f6f6" stroke-width="0.8"/>
<line x1="219.24" y1="237.5" x2="219.24" y2="407.2" stroke="#f6f6f6" stroke-width="0.8"/>
<line x1="226.88" y1="237.5" x2="226.88" y2="407.2" stroke="#f6f6f6" stroke-width="0.8"/>
<line x1="234.52" y1="237.5" x2="234.52" y2="407.2" stroke="#f6f6f6" stroke-width="0.8"/>
<line x1="242.16" y1="237.5" x2="242.16" y2="407.2" stroke="#f6f6f6" stroke-width="0.8"/>
<line x1="249.80" y1="237.5" x2="249.80" y2="407.2" stroke="#e6e6e6" stroke-width="0.8"/>
<line x1="257.44" y1="237.5" x2="257.44" y2="407.2" stroke="#f6f6f6" stroke-width="0.8"/>
<line x1="265.08" y1="237.5" x2="265.08" y2="407.2" stroke="#f6f6f6" stroke-width="0.8"/>
<line x1="36.3" y1="404.94" x2="265.6" y2="404.94" stroke="#f6f6f6" stroke-width="0.8"/>
<line x1="36.3" y1="399.70" x2="265.6" y2="399.70" stroke="#e6e6e6" stroke-width="0.8"/>
<line x1="36.3" y1="394.46" x2="265.6" y2="394.46" stroke="#f6f6f6" stroke-width="0.8"/>
<line x1="36.3" y1="389.22" x2="265.6" y2="389.22" stroke="#f6f6f6" stroke-width="0.8"/>
<line x1="36.3" y1="383.98" x2="265.6" y2="383.98" stroke="#f6f6f6" stroke-width="0.8"/>
<line x1="36.3" y1="378.74" x2="265.6" y2="378.74" stroke="#f6f6f6" stroke-width="0.8"/>
<line x1="36.3" y1="373.50" x2="265.6" y2="373.50" stroke="#f6f6f6" stroke-width="0.8"/>
<line x1="36.3" y1="368.26" x2="265.6" y2="368.26" stroke="#f6f6f6" stroke-width="0.8"/>
<line x1="36.3" y1="363.02" x2="265.6" y2="363.02" stroke="#f6f6f6" stroke-width="0.8"/>
<line x1="36.3" y1="357.78" x2="265.6" y2="357.78" stroke="#f6f6f6" stroke-width="0.8"/>
<line x1="36.3" y1="352.54" x2="265.6" y2="352.54" stroke="#f6f6f6" stroke-width="0.8"/>
<line x1="36.3" y1="347.30" x2="265.6" y2="347.30" stroke="#e6e6e6" stroke-width="0.8"/>
<line x1="36.3" y1="342.06" x2="265.6" y2="342.06" stroke="#f6f6f6" stroke-width="0.8"/>
<line x1="36.3" y1="336.82" x2="265.6" y2="336.82" stroke="#f6f6f6" stroke-width="0.8"/>
<line x1="36.3" y1="331.58" x2="265.6" y2="331.58" stroke="#f6f6f6" stroke-width="0.8"/>
<line x1="36.3" y1="326.34" x2="265.6" y2="326.34" stroke="#f6f6f6" stroke-width="0.8"/>
<line x1="36.3" y1="321.10" x2="265.6" y2="321.10" stroke="#f6f6f6" stroke-width="0.8"/>
<line x1="36.3" y1="315.86" x2="265.6" y2="315.86" stroke="#f6f6f6" stroke-width="0.8"/>
<line x1="36.3" y1="310.62" x2="265.6" y2="310.62" stroke="#f6f6f6" stroke-width="0.8"/>
<line x1="36.3" y1="305.38" x2="265.6" y2="305.38" stroke="#f6f6f6" stroke-width="0.8"/>
<line x1="36.3" y1="300.14" x2="265.6" y2="300.14" stroke="#f6f6f6" stroke-width="0.8"/>
<line x1="36.3" y1="294.90" x2="265.6" y2="294.90" stroke="#e6e6e6" stroke-width="0.8"/>
<line x1="36.3" y1="289.66" x2="265.6" y2="289.66" stroke="#f6f6f6" stroke-width="0.8"/>
<line x1="36.3" y1="284.42" x2="265.6" y2="284.42" stroke="#f6f6f6" stroke-width="0.8"/>
<line x1="36.3" y1="279.18" x2="265.6" y2="279.18" stroke="#f6f6f6" stroke-width="0.8"/>
<line x1="36.3" y1="273.94" x2="265.6" y2="273.94" stroke="#f6f6f6" stroke-width="0.8"/>
<line x1="36.3" y1="268.70" x2="265.6" y2="268.70" stroke="#f6f6f6" stroke-width="0.8"/>
<line x1="36.3" y1="263.46" x2="265.6" y2="263.46" stroke="#f6f6f6" stroke-width="0.8"/>
<line x1="36.3" y1="258.22" x2="265.6" y2="258.22" stroke="#f6f6f6" stroke-width="0.8"/>
<line x1="36.3" y1="252.98" x2="265.6" y2="252.98" stroke="#f6f6f6" stroke-width="0.8"/>
<line x1="36.3" y1="247.74" x2="265.6" y2="247.74" stroke="#f6f6f6" stroke-width="0.8"/>
<line x1="36.3" y1="242.50" x2="265.6" y2="242.50" stroke="#e6e6e6" stroke-width="0.8"/>
<rect x="36.3" y="237.5" width="229.3" height="169.7" fill="none" stroke="#8a8a8a" stroke-width="1.1"/>
<text x="34.80" y="403.10" font-size="7.6" font-family='"Liberation Serif", serif' font-weight="bold" fill="#000" text-anchor="end" textLength="11.6" lengthAdjust="spacingAndGlyphs">0.0</text>
<text x="34.80" y="350.70" font-size="7.6" font-family='"Liberation Serif", serif' font-weight="bold" fill="#000" text-anchor="end" textLength="18.8" lengthAdjust="spacingAndGlyphs">1e+6</text>
<text x="34.80" y="298.30" font-size="7.6" font-family='"Liberation Serif", serif' font-weight="bold" fill="#000" text-anchor="end" textLength="18.8" lengthAdjust="spacingAndGlyphs">2e+6</text>
<text x="34.80" y="245.90" font-size="7.6" font-family='"Liberation Serif", serif' font-weight="bold" fill="#000" text-anchor="end" textLength="18.8" lengthAdjust="spacingAndGlyphs">3e+6</text>
<text x="97.00" y="415.20" font-size="7.6" font-family='"Liberation Serif", serif' font-weight="bold" fill="#000" text-anchor="middle" textLength="8.2" lengthAdjust="spacingAndGlyphs">35</text>
<text x="173.40" y="415.20" font-size="7.6" font-family='"Liberation Serif", serif' font-weight="bold" fill="#000" text-anchor="middle" textLength="8.2" lengthAdjust="spacingAndGlyphs">40</text>
<text x="249.80" y="415.20" font-size="7.6" font-family='"Liberation Serif", serif' font-weight="bold" fill="#000" text-anchor="middle" textLength="8.2" lengthAdjust="spacingAndGlyphs">45</text>
<text x="9.30" y="322.80" font-size="8.6" font-family='"Liberation Serif", serif' font-weight="bold" fill="#000" text-anchor="middle" textLength="137.6" lengthAdjust="spacingAndGlyphs" transform="rotate(-90 9.30 322.80)">Electric Field (V/cm) @ -200V</text>
<text x="150.40" y="428.40" font-size="8.8" font-family='"Liberation Serif", serif' font-weight="bold" fill="#000" text-anchor="middle" textLength="62.2" lengthAdjust="spacingAndGlyphs">Distance (µm)</text>
<polyline points="36.30,375.00 68.40,373.50 84.90,370.40 92.70,359.20 97.00,243.70 100.20,281.80 104.10,332.30 108.10,361.10 116.10,374.50 123.80,384.10 131.70,393.50 147.40,397.90 163.10,398.50 195.00,399.00 225.90,399.00 249.50,399.00 258.00,399.00" fill="none" stroke="#111111" stroke-width="1.5" stroke-linejoin="round"/>
<circle cx="68.4" cy="373.5" r="1.6" fill="#111111"/>
<circle cx="84.9" cy="370.4" r="1.6" fill="#111111"/>
<circle cx="92.7" cy="359.2" r="1.6" fill="#111111"/>
<circle cx="97.0" cy="243.7" r="1.6" fill="#111111"/>
<circle cx="100.2" cy="281.8" r="1.6" fill="#111111"/>
<circle cx="104.1" cy="332.3" r="1.6" fill="#111111"/>
<circle cx="108.1" cy="361.1" r="1.6" fill="#111111"/>
<circle cx="116.1" cy="374.5" r="1.6" fill="#111111"/>
<circle cx="123.8" cy="384.1" r="1.6" fill="#111111"/>
<circle cx="131.7" cy="393.5" r="1.6" fill="#111111"/>
<circle cx="147.4" cy="397.9" r="1.6" fill="#111111"/>
<circle cx="163.1" cy="398.5" r="1.6" fill="#111111"/>
<circle cx="195.0" cy="399.0" r="1.6" fill="#111111"/>
<circle cx="225.9" cy="399.0" r="1.6" fill="#111111"/>
<circle cx="249.5" cy="399.0" r="1.6" fill="#111111"/>
<circle cx="258" cy="399.0" r="1.6" fill="#111111"/>
<polyline points="36.30,376.00 68.40,375.00 84.90,372.20 92.70,367.00 97.10,335.80 100.20,342.00 104.50,360.00 108.10,367.60 116.10,366.90 123.70,365.90 131.70,364.40 147.70,362.10 163.10,359.30 173.30,367.70 195.00,386.50 225.90,395.00 249.50,397.70 256.00,398.60" fill="none" stroke="#1f8a1f" stroke-width="1.5" stroke-linejoin="round"/>
<circle cx="68.4" cy="375.0" r="1.6" fill="#1f8a1f"/>
<circle cx="84.9" cy="372.2" r="1.6" fill="#1f8a1f"/>
<circle cx="92.7" cy="367.0" r="1.6" fill="#1f8a1f"/>
<circle cx="97.1" cy="335.8" r="1.6" fill="#1f8a1f"/>
<circle cx="100.2" cy="342.0" r="1.6" fill="#1f8a1f"/>
<circle cx="104.5" cy="360.0" r="1.6" fill="#1f8a1f"/>
<circle cx="108.1" cy="367.6" r="1.6" fill="#1f8a1f"/>
<circle cx="116.1" cy="366.9" r="1.6" fill="#1f8a1f"/>
<circle cx="123.7" cy="365.9" r="1.6" fill="#1f8a1f"/>
<circle cx="131.7" cy="364.4" r="1.6" fill="#1f8a1f"/>
<circle cx="147.7" cy="362.1" r="1.6" fill="#1f8a1f"/>
<circle cx="163.1" cy="359.3" r="1.6" fill="#1f8a1f"/>
<circle cx="173.3" cy="367.7" r="1.6" fill="#1f8a1f"/>
<circle cx="195.0" cy="386.5" r="1.6" fill="#1f8a1f"/>
<circle cx="225.9" cy="395.0" r="1.6" fill="#1f8a1f"/>
<circle cx="249.5" cy="397.7" r="1.6" fill="#1f8a1f"/>
<circle cx="256" cy="398.6" r="1.6" fill="#1f8a1f"/>
<polyline points="36.30,377.00 68.40,376.00 84.90,373.50 92.70,368.30 97.20,322.40 100.20,342.70 104.50,362.00 108.10,370.50 116.10,369.80 123.70,369.10 131.40,368.40 147.70,365.90 163.10,362.80 173.30,372.60 195.00,393.20 225.90,396.30 249.50,398.60 254.00,399.00 257.70,399.00" fill="none" stroke="#22ee22" stroke-width="1.5" stroke-linejoin="round"/>
<path d="M66.60000000000001 374.2L70.2 377.8M66.60000000000001 377.8L70.2 374.2" stroke="#22ee22" stroke-width="1.1"/>
<path d="M83.10000000000001 371.7L86.7 375.3M83.10000000000001 375.3L86.7 371.7" stroke="#22ee22" stroke-width="1.1"/>
<path d="M90.9 366.5L94.5 370.1M90.9 370.1L94.5 366.5" stroke="#22ee22" stroke-width="1.1"/>
<path d="M95.4 320.59999999999997L99.0 324.2M95.4 324.2L99.0 320.59999999999997" stroke="#22ee22" stroke-width="1.1"/>
<path d="M98.4 340.9L102.0 344.5M98.4 344.5L102.0 340.9" stroke="#22ee22" stroke-width="1.1"/>
<path d="M102.7 360.2L106.3 363.8M102.7 363.8L106.3 360.2" stroke="#22ee22" stroke-width="1.1"/>
<path d="M106.3 368.7L109.89999999999999 372.3M106.3 372.3L109.89999999999999 368.7" stroke="#22ee22" stroke-width="1.1"/>
<path d="M114.3 368.0L117.89999999999999 371.6M114.3 371.6L117.89999999999999 368.0" stroke="#22ee22" stroke-width="1.1"/>
<path d="M121.9 367.3L125.5 370.90000000000003M121.9 370.90000000000003L125.5 367.3" stroke="#22ee22" stroke-width="1.1"/>
<path d="M129.6 366.59999999999997L133.20000000000002 370.2M129.6 370.2L133.20000000000002 366.59999999999997" stroke="#22ee22" stroke-width="1.1"/>
<path d="M145.89999999999998 364.09999999999997L149.5 367.7M145.89999999999998 367.7L149.5 364.09999999999997" stroke="#22ee22" stroke-width="1.1"/>
<path d="M161.29999999999998 361.0L164.9 364.6M161.29999999999998 364.6L164.9 361.0" stroke="#22ee22" stroke-width="1.1"/>
<path d="M171.5 370.8L175.10000000000002 374.40000000000003M171.5 374.40000000000003L175.10000000000002 370.8" stroke="#22ee22" stroke-width="1.1"/>
<path d="M193.2 391.4L196.8 395.0M193.2 395.0L196.8 391.4" stroke="#22ee22" stroke-width="1.1"/>
<path d="M224.1 394.5L227.70000000000002 398.1M224.1 398.1L227.70000000000002 394.5" stroke="#22ee22" stroke-width="1.1"/>
<path d="M247.7 396.8L251.3 400.40000000000003M247.7 400.40000000000003L251.3 396.8" stroke="#22ee22" stroke-width="1.1"/>
<path d="M252.2 397.2L255.8 400.8M252.2 400.8L255.8 397.2" stroke="#22ee22" stroke-width="1.1"/>
<path d="M255.89999999999998 397.2L259.5 400.8M255.89999999999998 400.8L259.5 397.2" stroke="#22ee22" stroke-width="1.1"/>
<polyline points="36.30,377.50 68.40,377.00 84.90,375.60 92.70,372.20 97.20,352.40 103.70,366.90 115.40,361.80 123.40,360.40 131.40,360.10 147.70,357.70 163.10,355.00 173.30,361.00 194.10,388.60 225.90,394.50 249.50,395.90" fill="none" stroke="#88ee22" stroke-width="1.5" stroke-linejoin="round"/>
<path d="M66.60000000000001 377.0L70.2 377.0M68.4 375.2L68.4 378.8" stroke="#88ee22" stroke-width="1.1"/>
<path d="M83.10000000000001 375.6L86.7 375.6M84.9 373.8L84.9 377.40000000000003" stroke="#88ee22" stroke-width="1.1"/>
<path d="M90.9 372.2L94.5 372.2M92.7 370.4L92.7 374.0" stroke="#88ee22" stroke-width="1.1"/>
<path d="M95.4 352.4L99.0 352.4M97.2 350.59999999999997L97.2 354.2" stroke="#88ee22" stroke-width="1.1"/>
<path d="M101.9 366.9L105.5 366.9M103.7 365.09999999999997L103.7 368.7" stroke="#88ee22" stroke-width="1.1"/>
<path d="M113.60000000000001 361.8L117.2 361.8M115.4 360.0L115.4 363.6" stroke="#88ee22" stroke-width="1.1"/>
<path d="M121.60000000000001 360.4L125.2 360.4M123.4 358.59999999999997L123.4 362.2" stroke="#88ee22" stroke-width="1.1"/>
<path d="M129.6 360.1L133.20000000000002 360.1M131.4 358.3L131.4 361.90000000000003" stroke="#88ee22" stroke-width="1.1"/>
<path d="M145.89999999999998 357.7L149.5 357.7M147.7 355.9L147.7 359.5" stroke="#88ee22" stroke-width="1.1"/>
<path d="M161.29999999999998 355.0L164.9 355.0M163.1 353.2L163.1 356.8" stroke="#88ee22" stroke-width="1.1"/>
<path d="M171.5 361.0L175.10000000000002 361.0M173.3 359.2L173.3 362.8" stroke="#88ee22" stroke-width="1.1"/>
<path d="M192.29999999999998 388.6L195.9 388.6M194.1 386.8L194.1 390.40000000000003" stroke="#88ee22" stroke-width="1.1"/>
<path d="M224.1 394.5L227.70000000000002 394.5M225.9 392.7L225.9 396.3" stroke="#88ee22" stroke-width="1.1"/>
<path d="M247.7 395.9L251.3 395.9M249.5 394.09999999999997L249.5 397.7" stroke="#88ee22" stroke-width="1.1"/>
<rect x="141.1" y="241.5" width="108.5" height="41.1" fill="#fff" stroke="#999" stroke-width="0.8"/>
<line x1="141.5" y1="247" x2="152.5" y2="247" stroke="#111" stroke-width="1.5"/>
<circle cx="147" cy="247" r="1.5" fill="#111"/>
<text x="154.20" y="250.00" font-size="7.6" font-family='"Liberation Serif", serif' font-weight="bold" fill="#000" text-anchor="start" textLength="40.8" lengthAdjust="spacingAndGlyphs">Without FP</text>
<line x1="141.5" y1="257.3" x2="152.5" y2="257.3" stroke="#1f8a1f" stroke-width="1.5"/>
<circle cx="147" cy="257.3" r="1.5" fill="#1f8a1f"/>
<text x="154.20" y="260.30" font-size="7.6" font-family='"Liberation Serif", serif' font-weight="bold" fill="#000" text-anchor="start" textLength="93.2" lengthAdjust="spacingAndGlyphs">SiO2 Thickness = 0.2 µm</text>
<line x1="141.5" y1="267.3" x2="152.5" y2="267.3" stroke="#22ee22" stroke-width="1.5"/>
<circle cx="147" cy="267.3" r="1.5" fill="#22ee22"/>
<text x="154.20" y="270.30" font-size="7.6" font-family='"Liberation Serif", serif' font-weight="bold" fill="#000" text-anchor="start" textLength="93.2" lengthAdjust="spacingAndGlyphs">SiO2 Thickness = 0.4 µm</text>
<line x1="141.5" y1="276.9" x2="152.5" y2="276.9" stroke="#88ee22" stroke-width="1.5"/>
<circle cx="147" cy="276.9" r="1.5" fill="#88ee22"/>
<text x="154.20" y="279.90" font-size="7.6" font-family='"Liberation Serif", serif' font-weight="bold" fill="#000" text-anchor="start" textLength="93.2" lengthAdjust="spacingAndGlyphs">SiO2 Thickness = 0.6 µm</text>
<text x="412.00" y="10.20" font-size="10" font-family='"Liberation Serif", serif' font-weight="bold" fill="#000" text-anchor="middle">(b)</text>
<rect x="276.5" y="17.2" width="270.5" height="195" fill="#fff" stroke="#6e6e6e" stroke-width="1.2"/>
<rect x="410.2" y="17.2" width="2.8" height="195" fill="#b8b8b8"/>
<rect x="276.5" y="113" width="270.5" height="2.8" fill="#b8b8b8"/>
<line x1="410.2" y1="17.2" x2="410.2" y2="212.2" stroke="#888" stroke-width="0.7"/>
<line x1="413" y1="17.2" x2="413" y2="212.2" stroke="#888" stroke-width="0.7"/>
<line x1="276.5" y1="113" x2="547" y2="113" stroke="#888" stroke-width="0.7"/>
<line x1="276.5" y1="115.8" x2="547" y2="115.8" stroke="#888" stroke-width="0.7"/>
<defs><linearGradient id="cb" x1="0" y1="0" x2="0" y2="1"><stop offset="0" stop-color="#ff0000"/><stop offset="0.18" stop-color="#ffc800"/><stop offset="0.42" stop-color="#00d800"/><stop offset="0.7" stop-color="#00eaff"/><stop offset="1" stop-color="#0000ff"/></linearGradient><linearGradient id="tr" x1="0" y1="0" x2="1" y2="0"><stop offset="0" stop-color="#14b4f2"/><stop offset="0.35" stop-color="#1080f6"/><stop offset="0.7" stop-color="#0430fc"/><stop offset="1" stop-color="#0008ff"/></linearGradient></defs>
<text x="325.90" y="25.80" font-size="9.9" font-family='"Liberation Serif", serif' font-weight="normal" fill="#000" text-anchor="start" textLength="35.400000000000034" lengthAdjust="spacingAndGlyphs">Without FP</text>
<line x1="296.5" y1="22.2" x2="296.5" y2="90.7" stroke="#999" stroke-width="0.6" stroke-dasharray="0.7 1.2"/>
<line x1="296.5" y1="90.7" x2="405.0" y2="90.7" stroke="#999" stroke-width="0.6" stroke-dasharray="0.7 1.2"/>
<text x="294.50" y="25.70" font-size="4.4" font-family='"Liberation Sans", sans-serif' font-weight="normal" fill="#6a6a6a" text-anchor="end">-14</text>
<text x="294.50" y="39.15" font-size="4.4" font-family='"Liberation Sans", sans-serif' font-weight="normal" fill="#6a6a6a" text-anchor="end">-13</text>
<text x="294.50" y="52.60" font-size="4.4" font-family='"Liberation Sans", sans-serif' font-weight="normal" fill="#6a6a6a" text-anchor="end">-12</text>
<text x="294.50" y="66.05" font-size="4.4" font-family='"Liberation Sans", sans-serif' font-weight="normal" fill="#6a6a6a" text-anchor="end">-11</text>
<text x="294.50" y="79.50" font-size="4.4" font-family='"Liberation Sans", sans-serif' font-weight="normal" fill="#6a6a6a" text-anchor="end">-10</text>
<text x="304.80" y="96.90" font-size="4.4" font-family='"Liberation Sans", sans-serif' font-weight="normal" fill="#6a6a6a" text-anchor="middle">30</text>
<text x="332.10" y="96.90" font-size="4.4" font-family='"Liberation Sans", sans-serif' font-weight="normal" fill="#6a6a6a" text-anchor="middle">35</text>
<text x="359.40" y="96.90" font-size="4.4" font-family='"Liberation Sans", sans-serif' font-weight="normal" fill="#6a6a6a" text-anchor="middle">40</text>
<text x="386.70" y="96.90" font-size="4.4" font-family='"Liberation Sans", sans-serif' font-weight="normal" fill="#6a6a6a" text-anchor="middle">45</text>
<text transform="translate(283.5 56.2) rotate(-90)" text-anchor="middle" font-family='"Liberation Serif", serif' font-size="8.4" font-weight="bold" textLength="25" lengthAdjust="spacingAndGlyphs">Y (<tspan font-style="italic">µ</tspan>m)</text>
<text x="339.8" y="103.0" font-family='"Liberation Serif", serif' font-size="8.2" font-weight="bold" textLength="20.6" lengthAdjust="spacingAndGlyphs">X (<tspan font-style="italic">µ</tspan>m)</text>
<rect x="383.9" y="32.9" width="4.8" height="24.300000000000004" fill="url(#cb)"/>
<text x="383.40" y="30.50" font-size="4.8" font-family='"Liberation Serif", serif' font-weight="normal" fill="#222" text-anchor="start" textLength="26" lengthAdjust="spacingAndGlyphs">EF [V*cm^-1]</text>
<text x="389.20" y="36.46" font-size="5.8" font-family='"Liberation Sans", sans-serif' font-weight="normal" fill="#222" text-anchor="start" textLength="16.3" lengthAdjust="spacingAndGlyphs">3.5e+06</text>
<text x="389.20" y="47.39" font-size="5.8" font-family='"Liberation Sans", sans-serif' font-weight="normal" fill="#222" text-anchor="start" textLength="16.3" lengthAdjust="spacingAndGlyphs">1.8e+06</text>
<text x="389.20" y="57.84" font-size="5.8" font-family='"Liberation Sans", sans-serif' font-weight="normal" fill="#222" text-anchor="start" textLength="16.3" lengthAdjust="spacingAndGlyphs">1.0e+05</text>
<text x="407.70" y="21.70" font-size="4" font-family='"Liberation Sans", sans-serif' font-weight="normal" fill="#999" text-anchor="middle">×</text>
<rect x="296.5" y="66.0" width="89.89999999999998" height="24.0" fill="#0008ff"/>
<defs><linearGradient id="tr1" x1="0" y1="0" x2="1" y2="0"><stop offset="0" stop-color="#10d0f6"/><stop offset="0.3" stop-color="#12a8f4"/><stop offset="0.6" stop-color="#0a60fa"/><stop offset="0.85" stop-color="#0420ff"/><stop offset="1" stop-color="#0008ff"/></linearGradient></defs>
<rect x="333.0" y="66.0" width="16" height="24.0" fill="url(#tr1)"/>
<path d="M336.60 66.0 Q337.73 70.05 337.27 90.0" fill="none" stroke="#0a3a90" stroke-width="0.35" opacity="0.6"/>
<path d="M338.36 66.0 Q340.04 72.03 339.37 90.0" fill="none" stroke="#0a3a90" stroke-width="0.35" opacity="0.6"/>
<path d="M340.12 66.0 Q342.35 74.01 341.45 90.0" fill="none" stroke="#0a3a90" stroke-width="0.35" opacity="0.6"/>
<path d="M341.88 66.0 Q344.65 75.99 343.55 90.0" fill="none" stroke="#0a3a90" stroke-width="0.35" opacity="0.6"/>
<path d="M343.64 66.0 Q346.96 77.97 345.63 90.0" fill="none" stroke="#0a3a90" stroke-width="0.35" opacity="0.6"/>
<path d="M345.40 66.0 Q349.27 79.95 347.73 90.0" fill="none" stroke="#0a3a90" stroke-width="0.35" opacity="0.6"/>
<path d="M296.5 66.0 L334.0 66.0 Q337.0 76.0 336.0 90.0 L296.5 90.0 Z" fill="#00f2ff"/>
<path d="M296.5 68.88 L311.50 68.88 C321.50 68.88 333.70 76.27 334.70 90.0 L296.5 90.0 Z" fill="#00e6fc"/>
<path d="M296.5 68.88 L311.50 68.88 C321.50 68.88 333.70 76.27 334.70 90.0" fill="none" stroke="#063a6a" stroke-width="0.45" opacity="0.8"/>
<path d="M296.5 73.20 L314.00 73.20 C324.00 73.20 334.90 79.08 335.90 90.0 L296.5 90.0 Z" fill="#02daf8"/>
<path d="M296.5 73.20 L314.00 73.20 C324.00 73.20 334.90 79.08 335.90 90.0" fill="none" stroke="#063a6a" stroke-width="0.45" opacity="0.8"/>
<path d="M296.5 78.00 L316.50 78.00 C326.50 78.00 336.10 82.20 337.10 90.0 L296.5 90.0 Z" fill="#06ccf4"/>
<path d="M296.5 78.00 L316.50 78.00 C326.50 78.00 336.10 82.20 337.10 90.0" fill="none" stroke="#063a6a" stroke-width="0.45" opacity="0.8"/>
<path d="M296.5 82.32 L319.00 82.32 C329.00 82.32 337.30 85.01 338.30 90.0 L296.5 90.0 Z" fill="#0cbef0"/>
<path d="M296.5 82.32 L319.00 82.32 C329.00 82.32 337.30 85.01 338.30 90.0" fill="none" stroke="#063a6a" stroke-width="0.45" opacity="0.8"/>
<path d="M296.5 85.92 L321.50 85.92 C331.50 85.92 338.50 87.35 339.50 90.0 L296.5 90.0 Z" fill="#12b0ee"/>
<path d="M296.5 85.92 L321.50 85.92 C331.50 85.92 338.50 87.35 339.50 90.0" fill="none" stroke="#063a6a" stroke-width="0.45" opacity="0.8"/>
<path d="M329.0 66.0 L336.0 66.0 L335.5 70.0 L333.0 72.5 L330.5 69.0 Z" fill="#1a9a30" opacity="0.85"/>
<rect x="296.5" y="59.0" width="36.5" height="6.6" fill="#0a0ae6"/>
<rect x="296.5" y="65.3" width="37.5" height="1.0" fill="#000030"/>
<path d="M332.0 65.5 L336.5 65.5 L335.0 68.0 L333.0 68.0 Z" fill="#000"/>
<text x="439.30" y="25.40" font-size="9.9" font-family='"Liberation Serif", serif' font-weight="normal" fill="#000" text-anchor="start" textLength="80.69999999999999" lengthAdjust="spacingAndGlyphs">SiO2 Thickness = 0.2 µm</text>
<line x1="432.5" y1="22.2" x2="432.5" y2="90.7" stroke="#999" stroke-width="0.6" stroke-dasharray="0.7 1.2"/>
<line x1="432.5" y1="90.7" x2="541.5" y2="90.7" stroke="#999" stroke-width="0.6" stroke-dasharray="0.7 1.2"/>
<text x="430.50" y="25.70" font-size="4.4" font-family='"Liberation Sans", sans-serif' font-weight="normal" fill="#6a6a6a" text-anchor="end">-14</text>
<text x="430.50" y="39.15" font-size="4.4" font-family='"Liberation Sans", sans-serif' font-weight="normal" fill="#6a6a6a" text-anchor="end">-13</text>
<text x="430.50" y="52.60" font-size="4.4" font-family='"Liberation Sans", sans-serif' font-weight="normal" fill="#6a6a6a" text-anchor="end">-12</text>
<text x="430.50" y="66.05" font-size="4.4" font-family='"Liberation Sans", sans-serif' font-weight="normal" fill="#6a6a6a" text-anchor="end">-11</text>
<text x="430.50" y="79.50" font-size="4.4" font-family='"Liberation Sans", sans-serif' font-weight="normal" fill="#6a6a6a" text-anchor="end">-10</text>
<text x="440.80" y="96.90" font-size="4.4" font-family='"Liberation Sans", sans-serif' font-weight="normal" fill="#6a6a6a" text-anchor="middle">30</text>
<text x="468.10" y="96.90" font-size="4.4" font-family='"Liberation Sans", sans-serif' font-weight="normal" fill="#6a6a6a" text-anchor="middle">35</text>
<text x="495.40" y="96.90" font-size="4.4" font-family='"Liberation Sans", sans-serif' font-weight="normal" fill="#6a6a6a" text-anchor="middle">40</text>
<text x="522.70" y="96.90" font-size="4.4" font-family='"Liberation Sans", sans-serif' font-weight="normal" fill="#6a6a6a" text-anchor="middle">45</text>
<text transform="translate(420.0 56.2) rotate(-90)" text-anchor="middle" font-family='"Liberation Serif", serif' font-size="8.4" font-weight="bold" textLength="25" lengthAdjust="spacingAndGlyphs">Y (<tspan font-style="italic">µ</tspan>m)</text>
<text x="475.8" y="103.0" font-family='"Liberation Serif", serif' font-size="8.2" font-weight="bold" textLength="20.6" lengthAdjust="spacingAndGlyphs">X (<tspan font-style="italic">µ</tspan>m)</text>
<rect x="520.0" y="32.9" width="4.8" height="24.1" fill="url(#cb)"/>
<text x="519.50" y="30.50" font-size="4.8" font-family='"Liberation Serif", serif' font-weight="normal" fill="#222" text-anchor="start" textLength="26" lengthAdjust="spacingAndGlyphs">EF [V*cm^-1]</text>
<text x="525.30" y="36.45" font-size="5.8" font-family='"Liberation Sans", sans-serif' font-weight="normal" fill="#222" text-anchor="start" textLength="16.3" lengthAdjust="spacingAndGlyphs">3.5e+06</text>
<text x="525.30" y="47.29" font-size="5.8" font-family='"Liberation Sans", sans-serif' font-weight="normal" fill="#222" text-anchor="start" textLength="16.3" lengthAdjust="spacingAndGlyphs">1.8e+06</text>
<text x="525.30" y="57.65" font-size="5.8" font-family='"Liberation Sans", sans-serif' font-weight="normal" fill="#222" text-anchor="start" textLength="16.3" lengthAdjust="spacingAndGlyphs">1.0e+05</text>
<text x="544.20" y="21.70" font-size="4" font-family='"Liberation Sans", sans-serif' font-weight="normal" fill="#999" text-anchor="middle">×</text>
<rect x="432.4" y="63.3" width="91.30000000000007" height="27.10000000000001" fill="#0008ff"/>
<path d="M432.4 65.6 L499 65.6 L501 90.4 L432.4 90.4 Z" fill="#14a8f0"/>
<rect x="497" y="65.6" width="14" height="24.80000000000001" fill="url(#tr)"/>
<path d="M514 65.6 L509 90.4" stroke="#0820a0" stroke-width="0.4"/>
<path d="M469.3 65.6 L498 65.6 L499 79.6 L492 77.6 L486 80.6 L478 78.6 L469.3 84.6 Z" fill="#00dcfa" stroke="#04305a" stroke-width="0.4"/>
<path d="M475.3 65.6 L496 65.6 L494 70.6 L486 72.6 L480 69.6 L475.3 70.6 Z" fill="#00ecfe" stroke="#04305a" stroke-width="0.4"/>
<rect x="432.4" y="65.6" width="38.900000000000034" height="24.80000000000001" fill="#00f0ff"/>
<path d="M432.4 69.32 L455.30 69.32 C460.30 69.32 471.30 71.82 471.30 74.82 L471.30 90.4 L432.4 90.4 Z" fill="#00e4fb"/>
<path d="M432.4 69.32 L455.30 69.32 C460.30 69.32 471.30 71.82 471.30 74.82 L471.30 90.4" fill="none" stroke="#063a6a" stroke-width="0.45" opacity="0.85"/>
<path d="M432.4 74.03 L457.30 74.03 C462.30 74.03 472.30 78.03 472.30 81.03 L472.30 90.4 L432.4 90.4 Z" fill="#04d6f7"/>
<path d="M432.4 74.03 L457.30 74.03 C462.30 74.03 472.30 78.03 472.30 81.03 L472.30 90.4" fill="none" stroke="#063a6a" stroke-width="0.45" opacity="0.85"/>
<path d="M432.4 79.49 L459.30 79.49 C464.30 79.49 474.30 84.99 474.30 87.99 L474.30 90.4 L432.4 90.4 Z" fill="#0ac8f3"/>
<path d="M432.4 79.49 L459.30 79.49 C464.30 79.49 474.30 84.99 474.30 87.99 L474.30 90.4" fill="none" stroke="#063a6a" stroke-width="0.45" opacity="0.85"/>
<path d="M432.4 83.95 L461.30 83.95 C466.30 83.95 477.30 87.40 477.30 90.40 L477.30 90.4 L432.4 90.4 Z" fill="#10b8ef"/>
<path d="M432.4 83.95 L461.30 83.95 C466.30 83.95 477.30 87.40 477.30 90.40 L477.30 90.4" fill="none" stroke="#063a6a" stroke-width="0.45" opacity="0.85"/>
<path d="M432.4 87.42 L463.30 87.42 C468.30 87.42 499.30 87.40 499.30 90.40 L499.30 90.4 L432.4 90.4 Z" fill="#16a8ec"/>
<path d="M432.4 87.42 L463.30 87.42 C468.30 87.42 499.30 87.40 499.30 90.40 L499.30 90.4" fill="none" stroke="#063a6a" stroke-width="0.45" opacity="0.85"/>
<rect x="432.4" y="56.1" width="36.900000000000034" height="9.4" fill="#0a0ae6"/>
<rect x="432.4" y="55.8" width="36.900000000000034" height="0.8" fill="#c000ff"/>
<rect x="432.4" y="65.2" width="37.900000000000034" height="0.9" fill="#000030"/>
<path d="M469.3 63.0 L502.7 63.0 L502.7 66.0 L469.3 66.0 Z" fill="#080808"/>
<path d="M470.3 63.1 L483.3 63.1 L481.3 64.4 L470.3 64.6 Z" fill="#30d030"/>
<text x="303.80" y="124.50" font-size="9.9" font-family='"Liberation Serif", serif' font-weight="normal" fill="#000" text-anchor="start" textLength="79.80000000000001" lengthAdjust="spacingAndGlyphs">SiO2 Thickness = 0.4 µm</text>
<line x1="296.5" y1="121.0" x2="296.5" y2="189.5" stroke="#999" stroke-width="0.6" stroke-dasharray="0.7 1.2"/>
<line x1="296.5" y1="189.5" x2="405.0" y2="189.5" stroke="#999" stroke-width="0.6" stroke-dasharray="0.7 1.2"/>
<text x="294.50" y="124.50" font-size="4.4" font-family='"Liberation Sans", sans-serif' font-weight="normal" fill="#6a6a6a" text-anchor="end">-14</text>
<text x="294.50" y="137.95" font-size="4.4" font-family='"Liberation Sans", sans-serif' font-weight="normal" fill="#6a6a6a" text-anchor="end">-13</text>
<text x="294.50" y="151.40" font-size="4.4" font-family='"Liberation Sans", sans-serif' font-weight="normal" fill="#6a6a6a" text-anchor="end">-12</text>
<text x="294.50" y="164.85" font-size="4.4" font-family='"Liberation Sans", sans-serif' font-weight="normal" fill="#6a6a6a" text-anchor="end">-11</text>
<text x="294.50" y="178.30" font-size="4.4" font-family='"Liberation Sans", sans-serif' font-weight="normal" fill="#6a6a6a" text-anchor="end">-10</text>
<text x="304.80" y="195.70" font-size="4.4" font-family='"Liberation Sans", sans-serif' font-weight="normal" fill="#6a6a6a" text-anchor="middle">30</text>
<text x="332.10" y="195.70" font-size="4.4" font-family='"Liberation Sans", sans-serif' font-weight="normal" fill="#6a6a6a" text-anchor="middle">35</text>
<text x="359.40" y="195.70" font-size="4.4" font-family='"Liberation Sans", sans-serif' font-weight="normal" fill="#6a6a6a" text-anchor="middle">40</text>
<text x="386.70" y="195.70" font-size="4.4" font-family='"Liberation Sans", sans-serif' font-weight="normal" fill="#6a6a6a" text-anchor="middle">45</text>
<text transform="translate(283.5 155.0) rotate(-90)" text-anchor="middle" font-family='"Liberation Serif", serif' font-size="8.4" font-weight="bold" textLength="25" lengthAdjust="spacingAndGlyphs">Y (<tspan font-style="italic">µ</tspan>m)</text>
<text x="340.0" y="202.3" font-family='"Liberation Serif", serif' font-size="8.2" font-weight="bold" textLength="20.6" lengthAdjust="spacingAndGlyphs">X (<tspan font-style="italic">µ</tspan>m)</text>
<rect x="384.3" y="131.5" width="4.8" height="24.0" fill="url(#cb)"/>
<text x="383.80" y="129.10" font-size="4.8" font-family='"Liberation Serif", serif' font-weight="normal" fill="#222" text-anchor="start" textLength="26" lengthAdjust="spacingAndGlyphs">EF [V*cm^-1]</text>
<text x="389.60" y="135.04" font-size="5.8" font-family='"Liberation Sans", sans-serif' font-weight="normal" fill="#222" text-anchor="start" textLength="16.3" lengthAdjust="spacingAndGlyphs">3.5e+06</text>
<text x="389.60" y="145.84" font-size="5.8" font-family='"Liberation Sans", sans-serif' font-weight="normal" fill="#222" text-anchor="start" textLength="16.3" lengthAdjust="spacingAndGlyphs">1.8e+06</text>
<text x="389.60" y="156.16" font-size="5.8" font-family='"Liberation Sans", sans-serif' font-weight="normal" fill="#222" text-anchor="start" textLength="16.3" lengthAdjust="spacingAndGlyphs">1.0e+05</text>
<text x="407.70" y="120.50" font-size="4" font-family='"Liberation Sans", sans-serif' font-weight="normal" fill="#999" text-anchor="middle">×</text>
<rect x="296.5" y="158.6" width="92.10000000000002" height="30.0" fill="#0008ff"/>
<path d="M296.5 164.1 L362.6 164.1 L364.6 188.6 L296.5 188.6 Z" fill="#14a0f0"/>
<rect x="361.6" y="164.1" width="14" height="24.5" fill="url(#tr)"/>
<path d="M366.6 164.1 Q368.6 176.1 364.6 188.6" fill="none" stroke="#0a2a80" stroke-width="0.35" opacity="0.7"/>
<path d="M370.6 164.1 Q372.6 176.1 368.6 188.6" fill="none" stroke="#0a2a80" stroke-width="0.35" opacity="0.7"/>
<path d="M374.6 164.1 Q376.6 176.1 372.6 188.6" fill="none" stroke="#0a2a80" stroke-width="0.35" opacity="0.7"/>
<path d="M334.8 164.1 L363.6 164.1 L364.6 188.6 L334.8 188.6 Z" fill="#14a8f0"/>
<path d="M334.8 164.1 L363.6 164.1 L360.6 167.1 L355.6 169.1 L349.8 173.1 L343.8 176.1 L337.8 179.1 L334.8 180.1 Z" fill="#0cd4f6" stroke="#05355e" stroke-width="0.4"/>
<path d="M339.8 188.6 L347.8 184.1 L353.8 182.6 L357.6 178.1 L363.6 173.1 L364.6 188.6 Z" fill="#1192f0" stroke="#05355e" stroke-width="0.4"/>
<rect x="296.5" y="164.1" width="39.80000000000001" height="24.5" fill="#00f0ff"/>
<path d="M296.5 167.78 L320.80 167.78 C325.80 167.78 336.30 170.28 336.30 173.28 L336.30 188.6 L296.5 188.6 Z" fill="#00e4fb"/>
<path d="M296.5 167.78 L320.80 167.78 C325.80 167.78 336.30 170.28 336.30 173.28 L336.30 188.6" fill="none" stroke="#063a6a" stroke-width="0.45" opacity="0.85"/>
<path d="M296.5 172.43 L322.80 172.43 C327.80 172.43 336.80 176.43 336.80 179.43 L336.80 188.6 L296.5 188.6 Z" fill="#04d6f7"/>
<path d="M296.5 172.43 L322.80 172.43 C327.80 172.43 336.80 176.43 336.80 179.43 L336.80 188.6" fill="none" stroke="#063a6a" stroke-width="0.45" opacity="0.85"/>
<path d="M296.5 177.82 L324.80 177.82 C329.80 177.82 337.80 183.32 337.80 186.32 L337.80 188.6 L296.5 188.6 Z" fill="#0ac8f3"/>
<path d="M296.5 177.82 L324.80 177.82 C329.80 177.82 337.80 183.32 337.80 186.32 L337.80 188.6" fill="none" stroke="#063a6a" stroke-width="0.45" opacity="0.85"/>
<path d="M296.5 182.23 L326.80 182.23 C331.80 182.23 339.80 185.60 339.80 188.60 L339.80 188.6 L296.5 188.6 Z" fill="#10b8ef"/>
<path d="M296.5 182.23 L326.80 182.23 C331.80 182.23 339.80 185.60 339.80 188.60 L339.80 188.6" fill="none" stroke="#063a6a" stroke-width="0.45" opacity="0.85"/>
<path d="M296.5 185.66 L328.80 185.66 C333.80 185.66 340.80 185.60 340.80 188.60 L340.80 188.6 L296.5 188.6 Z" fill="#16a8ec"/>
<path d="M296.5 185.66 L328.80 185.66 C333.80 185.66 340.80 185.60 340.80 188.60 L340.80 188.6" fill="none" stroke="#063a6a" stroke-width="0.45" opacity="0.85"/>
<rect x="334.8" y="158.6" width="31.80000000000001" height="5.5" fill="#26b848"/>
<path d="M334.8 164.1 L334.8 160.79999999999998 L342.8 161.9 L348.8 164.1 Z" fill="#18a0a0"/>
<path d="M340.8 163.6 L348.8 160.525 L358.6 160.25 L365.6 163.6" fill="none" stroke="#041a08" stroke-width="0.9"/>
<path d="M346.8 162.45 L354.8 161.35 L360.6 162.17499999999998" fill="none" stroke="#08300c" stroke-width="0.6"/>
<path d="M357.6 159.1 L364.6 163.1 L360.6 163.1 Z" fill="#061a0a"/>
<path d="M334.8 162.1 L340.8 163.1 L337.8 165.1 L333.8 165.1 Z" fill="#000"/>
<rect x="296.5" y="151.9" width="38.30000000000001" height="12.199999999999989" fill="#0a0ae6"/>
<rect x="296.5" y="151.5" width="38.30000000000001" height="0.8" fill="#c000ff"/>
<rect x="334.8" y="158.2" width="31.80000000000001" height="0.7" fill="#b000ff" opacity="0.8"/>
<line x1="296.5" y1="157.6" x2="334.8" y2="157.6" stroke="#000050" stroke-width="0.6" opacity="0.5"/>
<line x1="296.5" y1="164.1" x2="388.6" y2="164.1" stroke="#000040" stroke-width="0.8"/>
<text x="439.30" y="124.20" font-size="9.9" font-family='"Liberation Serif", serif' font-weight="normal" fill="#000" text-anchor="start" textLength="80.69999999999999" lengthAdjust="spacingAndGlyphs">SiO2 Thickness = 0.6 µm</text>
<line x1="432.5" y1="121.0" x2="432.5" y2="189.5" stroke="#999" stroke-width="0.6" stroke-dasharray="0.7 1.2"/>
<line x1="432.5" y1="189.5" x2="541.5" y2="189.5" stroke="#999" stroke-width="0.6" stroke-dasharray="0.7 1.2"/>
<text x="430.50" y="124.50" font-size="4.4" font-family='"Liberation Sans", sans-serif' font-weight="normal" fill="#6a6a6a" text-anchor="end">-14</text>
<text x="430.50" y="137.95" font-size="4.4" font-family='"Liberation Sans", sans-serif' font-weight="normal" fill="#6a6a6a" text-anchor="end">-13</text>
<text x="430.50" y="151.40" font-size="4.4" font-family='"Liberation Sans", sans-serif' font-weight="normal" fill="#6a6a6a" text-anchor="end">-12</text>
<text x="430.50" y="164.85" font-size="4.4" font-family='"Liberation Sans", sans-serif' font-weight="normal" fill="#6a6a6a" text-anchor="end">-11</text>
<text x="430.50" y="178.30" font-size="4.4" font-family='"Liberation Sans", sans-serif' font-weight="normal" fill="#6a6a6a" text-anchor="end">-10</text>
<text x="440.80" y="195.70" font-size="4.4" font-family='"Liberation Sans", sans-serif' font-weight="normal" fill="#6a6a6a" text-anchor="middle">30</text>
<text x="468.10" y="195.70" font-size="4.4" font-family='"Liberation Sans", sans-serif' font-weight="normal" fill="#6a6a6a" text-anchor="middle">35</text>
<text x="495.40" y="195.70" font-size="4.4" font-family='"Liberation Sans", sans-serif' font-weight="normal" fill="#6a6a6a" text-anchor="middle">40</text>
<text x="522.70" y="195.70" font-size="4.4" font-family='"Liberation Sans", sans-serif' font-weight="normal" fill="#6a6a6a" text-anchor="middle">45</text>
<text transform="translate(420.0 155.0) rotate(-90)" text-anchor="middle" font-family='"Liberation Serif", serif' font-size="8.4" font-weight="bold" textLength="25" lengthAdjust="spacingAndGlyphs">Y (<tspan font-style="italic">µ</tspan>m)</text>
<text x="476.2" y="202.3" font-family='"Liberation Serif", serif' font-size="8.2" font-weight="bold" textLength="20.6" lengthAdjust="spacingAndGlyphs">X (<tspan font-style="italic">µ</tspan>m)</text>
<rect x="520.5" y="131.6" width="4.8" height="24.400000000000006" fill="url(#cb)"/>
<text x="520.00" y="129.20" font-size="4.8" font-family='"Liberation Serif", serif' font-weight="normal" fill="#222" text-anchor="start" textLength="26" lengthAdjust="spacingAndGlyphs">EF [V*cm^-1]</text>
<text x="525.80" y="135.16" font-size="5.8" font-family='"Liberation Sans", sans-serif' font-weight="normal" fill="#222" text-anchor="start" textLength="16.3" lengthAdjust="spacingAndGlyphs">3.5e+06</text>
<text x="525.80" y="146.14" font-size="5.8" font-family='"Liberation Sans", sans-serif' font-weight="normal" fill="#222" text-anchor="start" textLength="16.3" lengthAdjust="spacingAndGlyphs">1.8e+06</text>
<text x="525.80" y="156.64" font-size="5.8" font-family='"Liberation Sans", sans-serif' font-weight="normal" fill="#222" text-anchor="start" textLength="16.3" lengthAdjust="spacingAndGlyphs">1.0e+05</text>
<text x="544.20" y="120.50" font-size="4" font-family='"Liberation Sans", sans-serif' font-weight="normal" fill="#999" text-anchor="middle">×</text>
<rect x="432.4" y="155.9" width="93.10000000000002" height="32.69999999999999" fill="#0008ff"/>
<path d="M432.4 164.1 L498.7 164.1 L500.7 188.6 L432.4 188.6 Z" fill="#14a0f0"/>
<rect x="497.7" y="164.1" width="14" height="24.5" fill="url(#tr)"/>
<path d="M502.7 164.1 Q504.7 176.1 500.7 188.6" fill="none" stroke="#0a2a80" stroke-width="0.35" opacity="0.7"/>
<path d="M506.7 164.1 Q508.7 176.1 504.7 188.6" fill="none" stroke="#0a2a80" stroke-width="0.35" opacity="0.7"/>
<path d="M510.7 164.1 Q512.7 176.1 508.7 188.6" fill="none" stroke="#0a2a80" stroke-width="0.35" opacity="0.7"/>
<path d="M471.8 164.1 L499.7 164.1 L500.7 188.6 L471.8 188.6 Z" fill="#14a8f0"/>
<path d="M471.8 164.1 L499.7 164.1 L496.7 167.1 L491.7 169.1 L486.8 173.1 L480.8 176.1 L474.8 179.1 L471.8 180.1 Z" fill="#0cd4f6" stroke="#05355e" stroke-width="0.4"/>
<path d="M476.8 188.6 L484.8 184.1 L490.8 182.6 L493.7 178.1 L499.7 173.1 L500.7 188.6 Z" fill="#1192f0" stroke="#05355e" stroke-width="0.4"/>
<rect x="432.4" y="164.1" width="40.900000000000034" height="24.5" fill="#00f0ff"/>
<path d="M432.4 167.78 L457.80 167.78 C462.80 167.78 473.30 170.28 473.30 173.28 L473.30 188.6 L432.4 188.6 Z" fill="#00e4fb"/>
<path d="M432.4 167.78 L457.80 167.78 C462.80 167.78 473.30 170.28 473.30 173.28 L473.30 188.6" fill="none" stroke="#063a6a" stroke-width="0.45" opacity="0.85"/>
<path d="M432.4 172.43 L459.80 172.43 C464.80 172.43 473.80 176.43 473.80 179.43 L473.80 188.6 L432.4 188.6 Z" fill="#04d6f7"/>
<path d="M432.4 172.43 L459.80 172.43 C464.80 172.43 473.80 176.43 473.80 179.43 L473.80 188.6" fill="none" stroke="#063a6a" stroke-width="0.45" opacity="0.85"/>
<path d="M432.4 177.82 L461.80 177.82 C466.80 177.82 474.80 183.32 474.80 186.32 L474.80 188.6 L432.4 188.6 Z" fill="#0ac8f3"/>
<path d="M432.4 177.82 L461.80 177.82 C466.80 177.82 474.80 183.32 474.80 186.32 L474.80 188.6" fill="none" stroke="#063a6a" stroke-width="0.45" opacity="0.85"/>
<path d="M432.4 182.23 L463.80 182.23 C468.80 182.23 476.80 185.60 476.80 188.60 L476.80 188.6 L432.4 188.6 Z" fill="#10b8ef"/>
<path d="M432.4 182.23 L463.80 182.23 C468.80 182.23 476.80 185.60 476.80 188.60 L476.80 188.6" fill="none" stroke="#063a6a" stroke-width="0.45" opacity="0.85"/>
<path d="M432.4 185.66 L465.80 185.66 C470.80 185.66 477.80 185.60 477.80 188.60 L477.80 188.6 L432.4 188.6 Z" fill="#16a8ec"/>
<path d="M432.4 185.66 L465.80 185.66 C470.80 185.66 477.80 185.60 477.80 188.60 L477.80 188.6" fill="none" stroke="#063a6a" stroke-width="0.45" opacity="0.85"/>
<rect x="471.8" y="155.9" width="30.899999999999977" height="8.199999999999989" fill="#26b848"/>
<path d="M471.8 164.1 L471.8 159.18 L479.8 160.82 L485.8 164.1 Z" fill="#18a0a0"/>
<path d="M477.8 163.6 L485.8 158.77 L494.7 158.36 L501.7 163.6" fill="none" stroke="#041a08" stroke-width="0.9"/>
<path d="M483.8 161.64 L491.8 160.0 L496.7 161.23" fill="none" stroke="#08300c" stroke-width="0.6"/>
<path d="M493.7 156.4 L500.7 163.1 L496.7 163.1 Z" fill="#061a0a"/>
<path d="M471.8 162.1 L477.8 163.1 L474.8 165.1 L470.8 165.1 Z" fill="#000"/>
<rect x="432.4" y="149.5" width="39.400000000000034" height="14.599999999999994" fill="#0a0ae6"/>
<rect x="432.4" y="149.1" width="39.400000000000034" height="0.8" fill="#c000ff"/>
<rect x="471.8" y="155.5" width="30.899999999999977" height="0.7" fill="#b000ff" opacity="0.8"/>
<line x1="432.4" y1="157.6" x2="471.8" y2="157.6" stroke="#000050" stroke-width="0.6" opacity="0.5"/>
<line x1="432.4" y1="164.1" x2="525.5" y2="164.1" stroke="#000040" stroke-width="0.8"/></svg></body></html>
